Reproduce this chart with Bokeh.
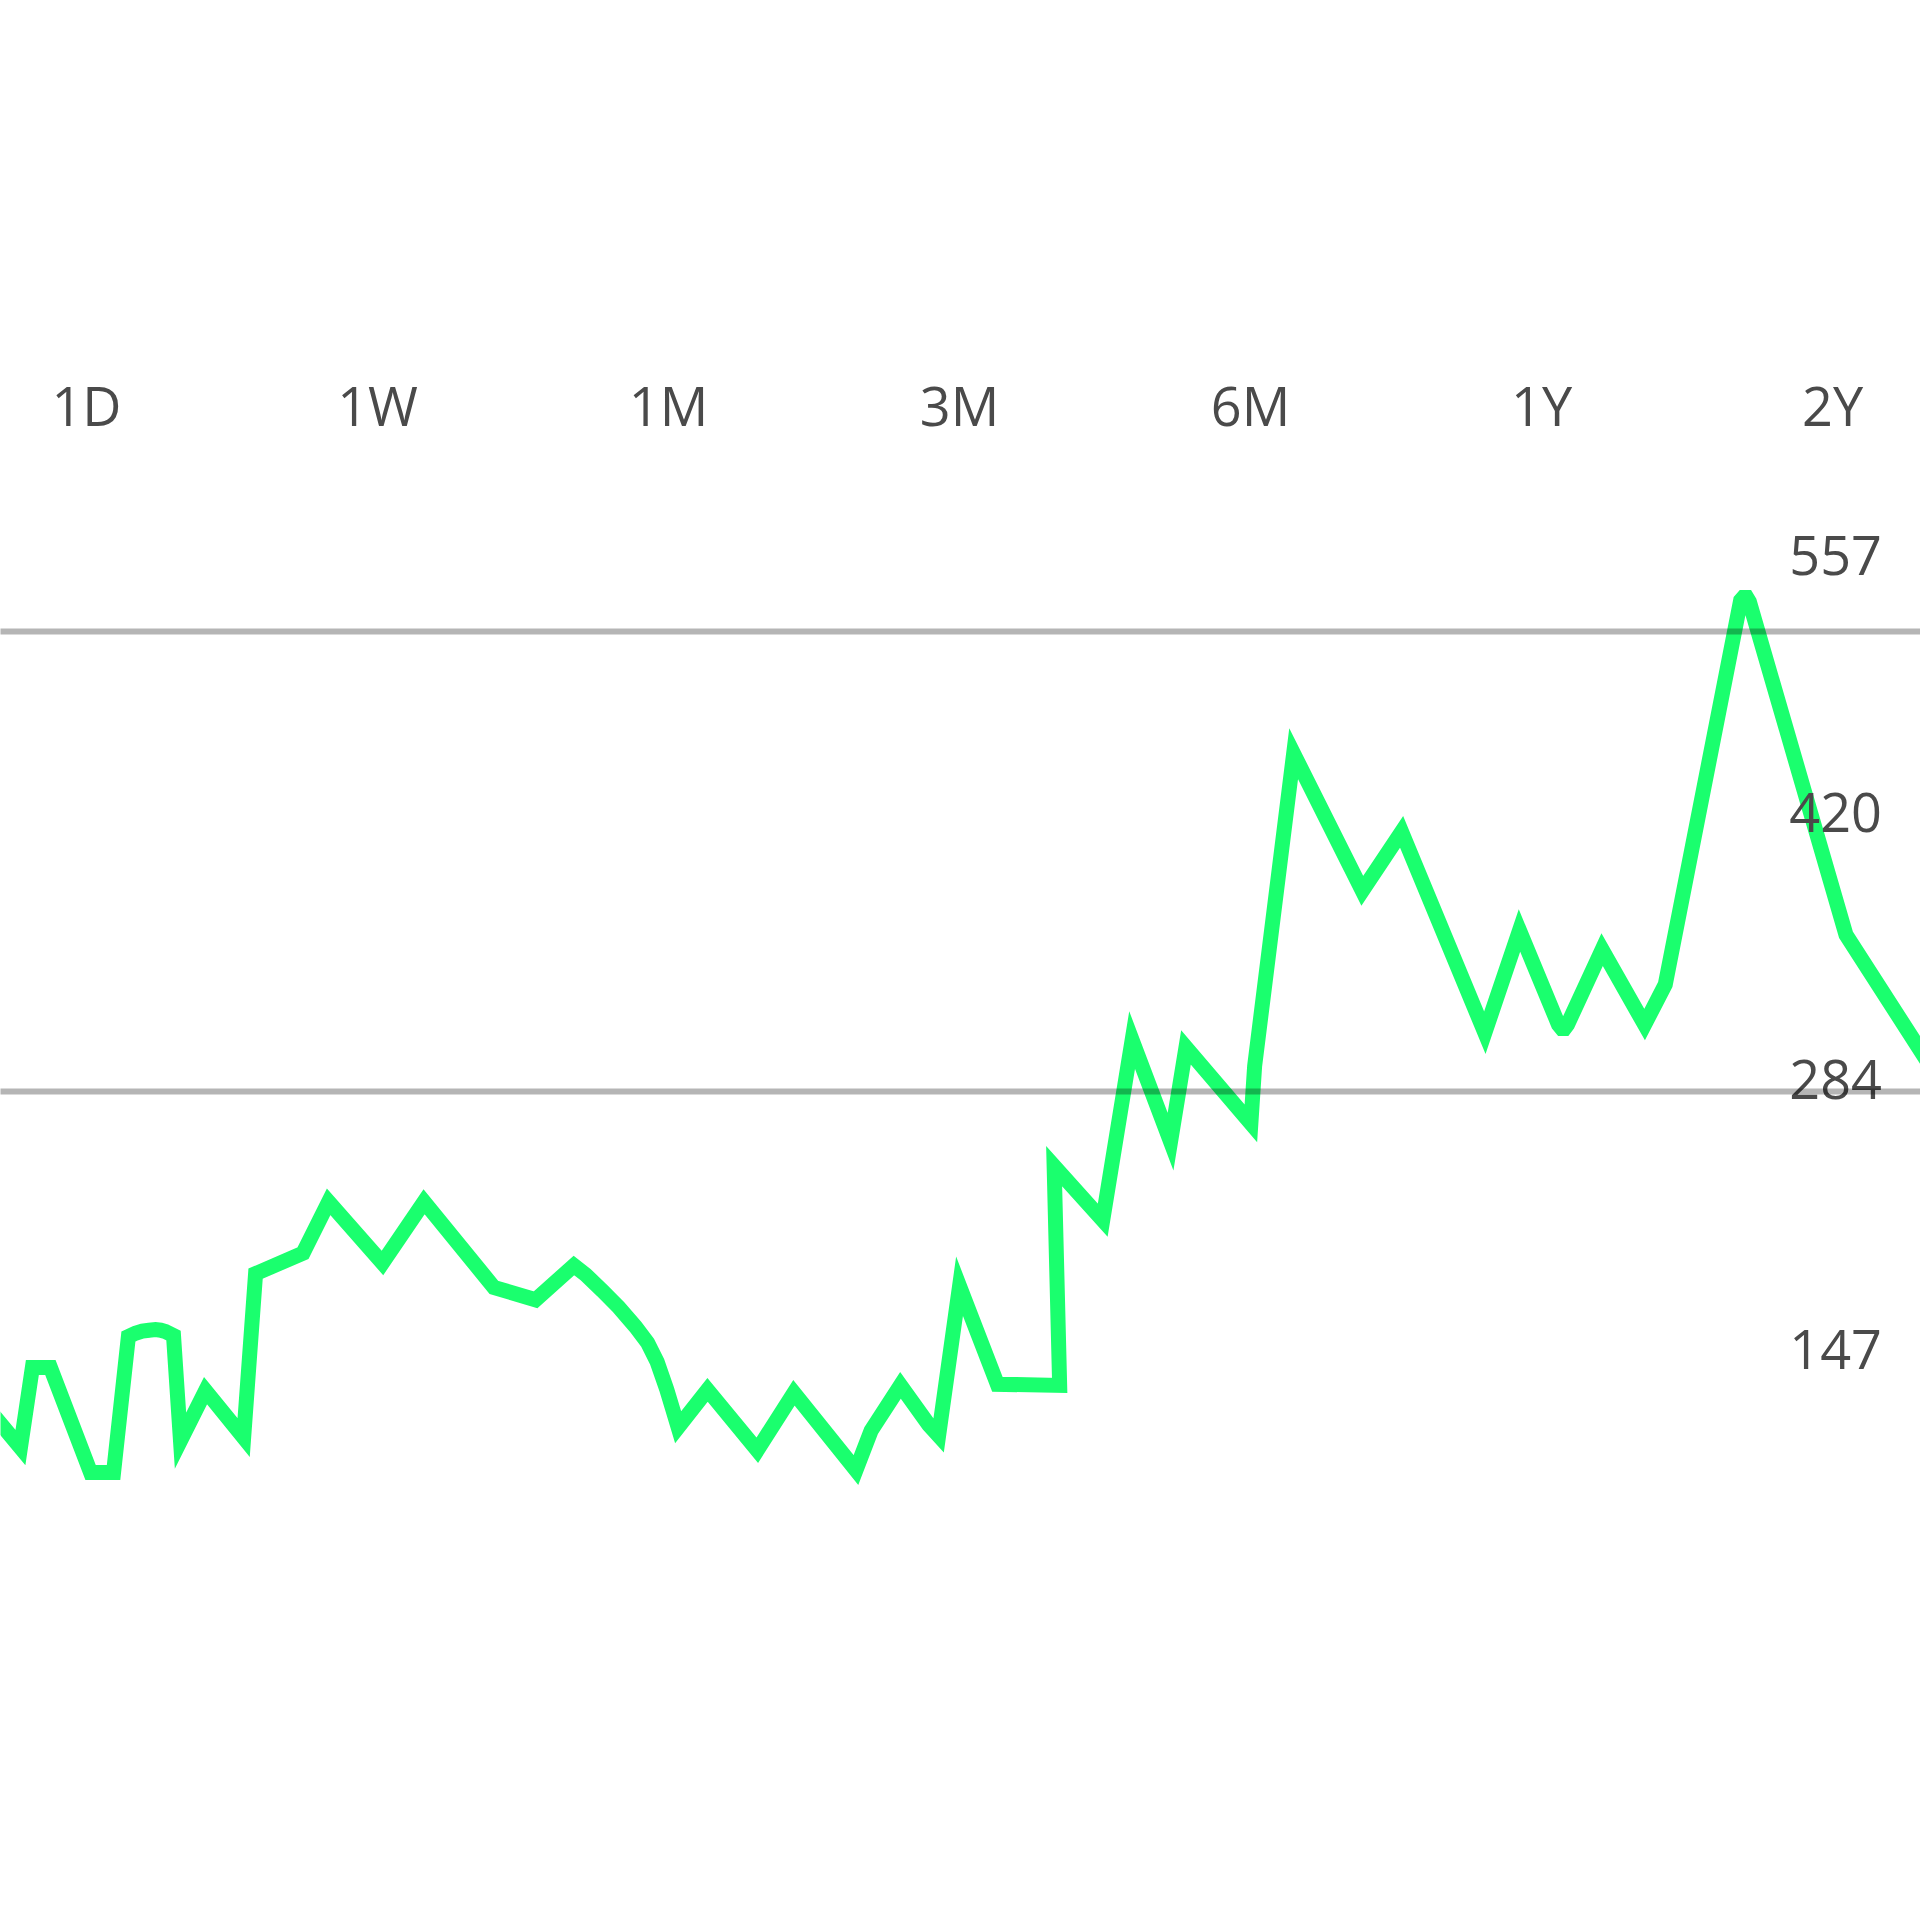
from bokeh.embed import file_html
from bokeh.models import FixedTicker
from bokeh.plotting import figure
from bokeh.resources import INLINE

periods = ["1D", "1W", "1M", "3M", "6M", "1Y", "2Y"]
period_ticks = [0, 1, 2, 3, 4, 5, 6]

price_labels = ["557", "420", "284", "147"]
price_ticks = [557.0, 424.3, 286.4, 147.0]
grid_levels = [517.8, 280.2]

x_vals = [-0.330, -0.227, -0.186, -0.124, 0.014, 0.093, 0.144, 0.168, 0.192, 0.215,
          0.237, 0.255, 0.271, 0.299, 0.323, 0.409, 0.540, 0.581, 0.744, 0.832,
          1.017, 1.160, 1.400, 1.543, 1.675, 1.715, 1.772, 1.829, 1.886, 1.928,
          1.961, 1.994, 2.033, 2.134, 2.305, 2.431, 2.644, 2.696, 2.797, 2.894,
          2.928, 3.000, 3.130, 3.344, 3.325, 3.492, 3.593, 3.725, 3.778, 4.001,
          4.014, 4.148, 4.384, 4.519, 4.805, 4.924, 5.058, 5.069, 5.079, 5.089,
          5.208, 5.354, 5.425, 5.684, 5.693, 5.705, 5.714, 6.046, 6.395]
y_vals = [115.0, 96.4, 137.7, 137.7, 83.5, 83.5, 153.7, 155.4, 156.5, 157.0,
          157.3, 157.0, 156.3, 154.2, 100.0, 125.8, 101.6, 186.2, 196.8, 223.3,
          191.7, 223.3, 179.1, 172.7, 190.4, 185.7, 177.5, 168.8, 158.9, 150.6,
          140.6, 126.3, 106.9, 126.2, 95.0, 124.7, 84.8, 105.1, 128.5, 108.2,
          102.6, 179.7, 129.1, 128.5, 241.7, 213.8, 306.8, 254.3, 303.0, 263.8,
          293.5, 454.7, 383.9, 414.3, 310.6, 363.4, 314.8, 312.8, 312.8, 314.8,
          353.5, 314.8, 335.5, 533.8, 535.4, 535.4, 533.1, 361.2, 279.6]

p = figure(width=1920, height=1920, output_backend="svg", toolbar_location=None,
           x_range=(-0.2955, 6.302), y_range=(-147.8, 843.6),
           x_axis_location="above", min_border=0, outline_line_color=None,
           background_fill_color="white", border_fill_color="white")

p.line(x_vals, y_vals, line_color="#1aff6e", line_width=15, line_join="miter")

p.xaxis.fixed_location = 612.7
p.yaxis.fixed_location = 6.19
p.xaxis.ticker = FixedTicker(ticks=period_ticks)
p.xaxis.major_label_overrides = dict(zip(period_ticks, periods))
p.yaxis.ticker = FixedTicker(ticks=price_ticks)
p.yaxis.major_label_overrides = dict(zip(price_ticks, price_labels))

for ax in (p.xaxis[0], p.yaxis[0]):
    ax.axis_line_color = None
    ax.major_tick_line_color = None
    ax.minor_tick_line_color = None
    ax.major_label_text_font = "Open Sans"
    ax.major_label_text_font_size = "54px"
    ax.major_label_text_color = "#4a4a4a"
    ax.major_label_standoff = 0
p.yaxis.major_label_orientation = "horizontal"

p.xgrid.visible = False
p.ygrid.ticker = FixedTicker(ticks=grid_levels)
p.ygrid.grid_line_color = "black"
p.ygrid.grid_line_alpha = 0.29
p.ygrid.grid_line_width = 6
p.ygrid.level = "overlay"

open("out.html", "w").write(file_html(p, INLINE))
